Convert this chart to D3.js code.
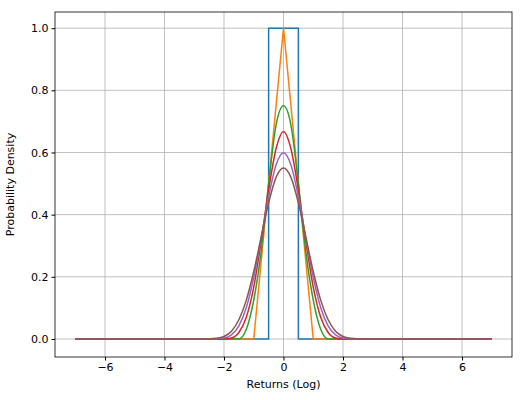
<!DOCTYPE html>
<html><head><meta charset="utf-8">
<script src="https://cdn.jsdelivr.net/npm/d3@7"></script>
<style>body{margin:0;background:#fff}svg text{font-family:"DejaVu Sans",sans-serif;font-size:11px;fill:#000}</style>
</head><body><svg id="c" width="525" height="400"></svg>
<script>
const xTicks=[-6,-4,-2,0,2,4,6];
const yTicks=[0,0.2,0.4,0.6,0.8,1.0];
const colors=["#1f77b4","#ff7f0e","#2ca02c","#d62728","#9467bd","#8c564b"];
const n1x=[-7,-0.5,-0.5,0.5,0.5,7], n1y=[0,0,1,1,0,0];
const n2x=[-7,-1,0,1,7], n2y=[0,0,1,0,0];
const n3x=[-7,-1.5,-1.25,-1,-0.75,-0.5,-0.25,0,0.25,0.5,0.75,1,1.25,1.5,7];
const n3y=[0,0,0.031,0.125,0.281,0.5,0.688,0.75,0.688,0.5,0.281,0.125,0.031,0,0];
const n4x=[-7,-2,-1.75,-1.5,-1.25,-1,-0.75,-0.5,-0.25,0,0.25,0.5,0.75,1,1.25,1.5,1.75,2,7];
const n4y=[0,0,0.003,0.021,0.070,0.167,0.315,0.479,0.612,0.667,0.612,0.479,0.315,0.167,0.070,0.021,0.003,0,0];
const n5x=[-7,-2.5,-2,-1.75,-1.5,-1.25,-1,-0.75,-0.5,-0.25,0,0.25,0.5,0.75,1,1.25,1.5,1.75,2,2.5,7];
const n5y=[0,0,0.003,0.013,0.042,0.101,0.198,0.325,0.458,0.560,0.599,0.560,0.458,0.325,0.198,0.101,0.042,0.013,0.003,0,0];
const n6x=[-7,-3,-2.5,-2.25,-2,-1.75,-1.5,-1.25,-1,-0.75,-0.5,-0.25,0,0.25,0.5,0.75,1,1.25,1.5,1.75,2,2.25,2.5,3,7];
const n6y=[0,0,0.0003,0.002,0.008,0.025,0.062,0.125,0.217,0.328,0.438,0.520,0.55,0.520,0.438,0.328,0.217,0.125,0.062,0.025,0.008,0.002,0.0003,0,0];
const series=[[n1x,n1y,d3.curveLinear],[n2x,n2y,d3.curveLinear],[n3x,n3y,d3.curveMonotoneX],[n4x,n4y,d3.curveMonotoneX],[n5x,n5y,d3.curveMonotoneX],[n6x,n6y,d3.curveMonotoneX]];

const L=55,R=512,T=12,B=357;
const svg=d3.select("#c");
const x=d3.scaleLinear().domain([-7.68,7.68]).range([L,R]);
const y=d3.scaleLinear().domain([-0.058,1.052]).range([B,T]);
const g=svg.append("g");
g.selectAll(".gx").data(xTicks).enter().append("line").attr("x1",d=>x(d)).attr("x2",d=>x(d)).attr("y1",T).attr("y2",B).attr("stroke","#b0b0b0").attr("stroke-width",0.8);
g.selectAll(".gy").data(yTicks).enter().append("line").attr("y1",d=>y(d)).attr("y2",d=>y(d)).attr("x1",L).attr("x2",R).attr("stroke","#b0b0b0").attr("stroke-width",0.8);
series.forEach((s,i)=>{
  const pts=s[0].map((v,j)=>[v,s[1][j]]);
  svg.append("path").attr("d",d3.line().x(d=>x(d[0])).y(d=>y(d[1])).curve(s[2])(pts)).attr("fill","none").attr("stroke",colors[i]).attr("stroke-width",1.5);
});
svg.append("rect").attr("x",L).attr("y",T).attr("width",R-L).attr("height",B-T).attr("fill","none").attr("stroke","#000").attr("stroke-width",0.8);
const xa=svg.append("g").attr("transform",`translate(0,${B})`).call(d3.axisBottom(x).tickValues(xTicks).tickSize(3.5).tickFormat(d=>d<0?"\u2212"+(-d):d));
const ya=svg.append("g").attr("transform",`translate(${L},0)`).call(d3.axisLeft(y).tickValues(yTicks).tickSize(3.5).tickFormat(d3.format(".1f")));
[xa,ya].forEach(a=>{a.select(".domain").remove();a.selectAll("text").attr("font-family","DejaVu Sans").attr("font-size",11);});
svg.append("text").attr("x",(L+R)/2).attr("y",388).attr("text-anchor","middle").text("Returns (Log)");
svg.append("text").attr("transform",`translate(14,${(T+B)/2}) rotate(-90)`).attr("text-anchor","middle").text("Probability Density");
</script></body></html>
